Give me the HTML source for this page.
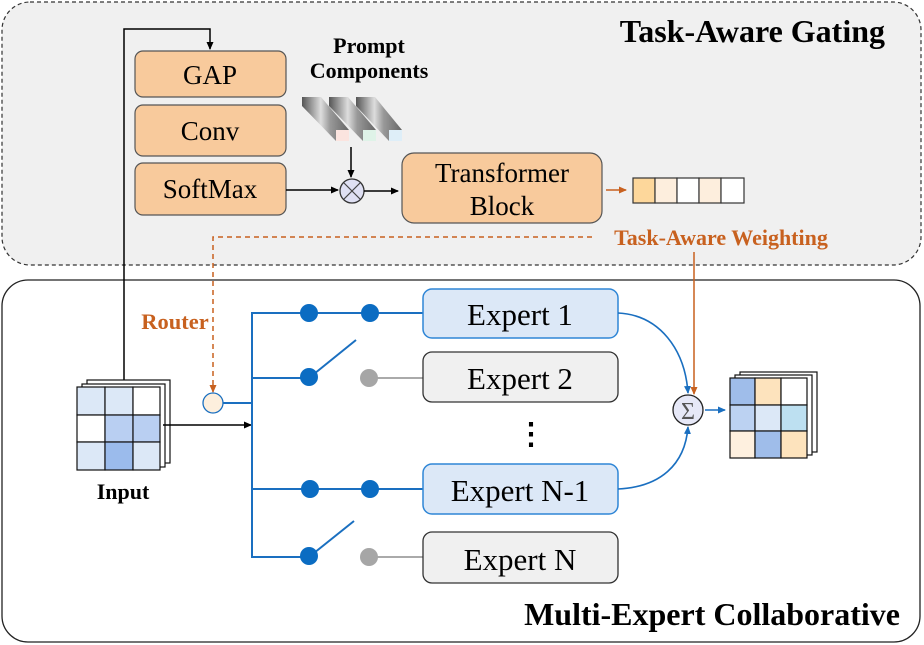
<!DOCTYPE html>
<html><head><meta charset="utf-8"><style>
html,body{margin:0;padding:0;background:#fff;}
svg{display:block;font-family:"Liberation Serif",serif;}
text{font-family:"Liberation Serif",serif;}
</style></head><body>
<svg width="924" height="645" viewBox="0 0 924 645" xmlns="http://www.w3.org/2000/svg" font-family="Liberation Serif, serif">
<defs>
<marker id="ak" markerWidth="8" markerHeight="8" refX="7" refY="4" orient="auto" markerUnits="userSpaceOnUse"><path d="M0,0.5 L8,4 L0,7.5 z" fill="#000"/></marker>
<marker id="ab" markerWidth="8" markerHeight="8" refX="7" refY="4" orient="auto" markerUnits="userSpaceOnUse"><path d="M0,0.5 L8,4 L0,7.5 z" fill="#1a6fc0"/></marker>
<marker id="ao" markerWidth="8" markerHeight="8" refX="7" refY="4" orient="auto" markerUnits="userSpaceOnUse"><path d="M0,0.5 L8,4 L0,7.5 z" fill="#c8611f"/></marker>
<linearGradient id="gs" x1="0" y1="0" x2="1" y2="0">
<stop offset="0" stop-color="#555"/><stop offset="0.4" stop-color="#ddd"/><stop offset="0.6" stop-color="#999"/><stop offset="1" stop-color="#666"/></linearGradient>
</defs>
<rect x="2" y="2" width="919" height="263" rx="28" fill="#f0f0f0" stroke="#333" stroke-width="1.2" stroke-dasharray="4,3"/>
<text x="885" y="42" text-anchor="end" font-size="32" font-weight="bold">Task-Aware Gating</text>
<rect x="2" y="280" width="918" height="362" rx="26" fill="#fff" stroke="#222" stroke-width="1.3"/>
<text x="900" y="625" text-anchor="end" font-size="32" font-weight="bold">Multi-Expert Collaborative</text>

<polyline points="124,383 124,29 210,29 210,49" fill="none" stroke="#000" stroke-width="1.5" marker-end="url(#ak)"/>
<rect x="135" y="51" width="151" height="46" rx="8" fill="#f8ca9c" stroke="#555" stroke-width="1.2"/>
<text x="210" y="84" text-anchor="middle" font-size="27">GAP</text>
<rect x="135" y="105" width="151" height="51" rx="8" fill="#f8ca9c" stroke="#555" stroke-width="1.2"/>
<text x="210" y="140" text-anchor="middle" font-size="27">Conv</text>
<rect x="135" y="163" width="151" height="52" rx="8" fill="#f8ca9c" stroke="#555" stroke-width="1.2"/>
<text x="210" y="198" text-anchor="middle" font-size="27">SoftMax</text>

<text x="369" y="53" text-anchor="middle" font-size="22" font-weight="bold">Prompt</text>
<text x="369" y="78" text-anchor="middle" font-size="22" font-weight="bold">Components</text>
<g>
<polygon points="302,97 321,97 349,130 349,141 336,141 302,106" fill="url(#gs)"/>
<rect x="336" y="130" width="13" height="11" fill="#fbe4df"/>
<polygon points="329,97 348,97 376,130 376,141 363,141 329,106" fill="url(#gs)"/>
<rect x="363" y="130" width="13" height="11" fill="#dff3e8"/>
<polygon points="356,97 375,97 402,130 402,141 389,141 356,106" fill="url(#gs)"/>
<rect x="389" y="130" width="13" height="11" fill="#deeef8"/>
</g>
<line x1="351" y1="147" x2="351" y2="177" stroke="#000" stroke-width="1.5" marker-end="url(#ak)"/>
<line x1="286" y1="190" x2="338" y2="190" stroke="#000" stroke-width="1.5" marker-end="url(#ak)"/>
<circle cx="352" cy="191" r="12" fill="#dfe0f3" stroke="#333" stroke-width="1.3"/>
<line x1="344" y1="183" x2="360" y2="199" stroke="#444" stroke-width="1.2"/>
<line x1="360" y1="183" x2="344" y2="199" stroke="#444" stroke-width="1.2"/>
<line x1="364" y1="191" x2="398" y2="191" stroke="#000" stroke-width="1.5" marker-end="url(#ak)"/>
<rect x="402" y="153" width="200" height="70" rx="12" fill="#f8ca9c" stroke="#555" stroke-width="1.2"/>
<text x="502" y="182" text-anchor="middle" font-size="27">Transformer</text>
<text x="502" y="215" text-anchor="middle" font-size="27">Block</text>
<line x1="606" y1="190" x2="626" y2="190" stroke="#c8611f" stroke-width="1.5" marker-end="url(#ao)"/>
<g stroke="#333" stroke-width="1.2">
<rect x="633" y="178" width="22" height="25" fill="#fdd79b"/>
<rect x="655" y="178" width="22" height="25" fill="#fdeedd"/>
<rect x="677" y="178" width="22" height="25" fill="#fff"/>
<rect x="699" y="178" width="22" height="25" fill="#fdeedd"/>
<rect x="721" y="178" width="23" height="25" fill="#fff"/>
</g>
<text x="721" y="245" text-anchor="middle" font-size="22" font-weight="bold" fill="#c8611f">Task-Aware Weighting</text>
<polyline points="592,237 213,237 213,390" fill="none" stroke="#c8611f" stroke-width="1.5" stroke-dasharray="5,4"/>
<line x1="213" y1="385" x2="213" y2="392" stroke="#c8611f" stroke-width="1.5" marker-end="url(#ao)"/>
<text x="175" y="329" text-anchor="middle" font-size="22.5" font-weight="bold" fill="#c8611f">Router</text>
<line x1="694" y1="252" x2="694" y2="394" stroke="#c8611f" stroke-width="1.5" marker-end="url(#ao)"/>

<g stroke="#111" stroke-width="1.2">
<rect x="87" y="380" width="83" height="83" fill="#fff"/>
<rect x="82" y="384" width="83" height="83" fill="#fff"/>
<rect x="77" y="387" width="28" height="28" fill="#dce8f7"/>
<rect x="105" y="387" width="28" height="28" fill="#dce8f7"/>
<rect x="133" y="387" width="27" height="28" fill="#fff"/>
<rect x="77" y="415" width="28" height="27" fill="#fff"/>
<rect x="105" y="415" width="28" height="27" fill="#b9cff2"/>
<rect x="133" y="415" width="27" height="27" fill="#b9cff2"/>
<rect x="77" y="442" width="28" height="28" fill="#dce8f7"/>
<rect x="105" y="442" width="28" height="28" fill="#9bbbec"/>
<rect x="133" y="442" width="27" height="28" fill="#dce8f7"/>
</g>
<text x="123" y="499" text-anchor="middle" font-size="22" font-weight="bold">Input</text>
<line x1="163" y1="425" x2="251" y2="425" stroke="#000" stroke-width="1.5" marker-end="url(#ak)"/>

<circle cx="213" cy="403" r="10" fill="#fdefdd" stroke="#1a6fc0" stroke-width="1.3"/>
<g stroke="#1a6fc0" stroke-width="2" fill="none">
<line x1="223" y1="403" x2="252" y2="403"/>
<line x1="252" y1="312" x2="252" y2="558"/>
<line x1="252" y1="313" x2="423" y2="313"/>
<line x1="252" y1="378" x2="309" y2="378"/>
<line x1="309" y1="378" x2="356" y2="340"/>
<line x1="252" y1="489" x2="423" y2="489"/>
<line x1="252" y1="557" x2="309" y2="557"/>
<line x1="309" y1="557" x2="354" y2="521"/>
</g>
<line x1="369" y1="378" x2="423" y2="378" stroke="#aaa" stroke-width="2"/>
<line x1="369" y1="557" x2="423" y2="557" stroke="#aaa" stroke-width="2"/>
<g fill="#0b6cc2">
<circle cx="309" cy="313" r="9"/><circle cx="370" cy="313" r="9"/>
<circle cx="309" cy="377" r="9"/>
<circle cx="310" cy="489" r="9"/><circle cx="370" cy="489" r="9"/>
<circle cx="309" cy="556" r="9"/>
</g>
<circle cx="369" cy="378" r="9" fill="#a6a6a6"/>
<circle cx="369" cy="557" r="9" fill="#a6a6a6"/>

<rect x="423" y="289" width="195" height="49" rx="9" fill="#dce8f7" stroke="#2f86d6" stroke-width="1.5"/>
<text x="520" y="325" text-anchor="middle" font-size="31">Expert 1</text>
<rect x="423" y="352" width="195" height="50" rx="9" fill="#f0f0f0" stroke="#333" stroke-width="1.3"/>
<text x="520" y="389" text-anchor="middle" font-size="31">Expert 2</text>
<text x="531" y="444" text-anchor="middle" font-size="30" font-weight="bold">⋮</text>
<rect x="423" y="464" width="195" height="50" rx="9" fill="#dce8f7" stroke="#2f86d6" stroke-width="1.5"/>
<text x="520" y="501" text-anchor="middle" font-size="31">Expert N-1</text>
<rect x="423" y="532" width="195" height="51" rx="9" fill="#f0f0f0" stroke="#333" stroke-width="1.3"/>
<text x="520" y="570" text-anchor="middle" font-size="31">Expert N</text>

<path d="M618,313 C660,315 685,350 688,393" fill="none" stroke="#1a6fc0" stroke-width="1.6" marker-end="url(#ab)"/>
<path d="M618,489 C660,487 685,465 688,427" fill="none" stroke="#1a6fc0" stroke-width="1.6" marker-end="url(#ab)"/>
<circle cx="688" cy="410" r="15" fill="#e6e8f7" stroke="#222" stroke-width="1.3"/>
<text x="688" y="419" text-anchor="middle" font-size="24" fill="#555">Σ</text>
<line x1="705" y1="410" x2="725" y2="410" stroke="#1a6fc0" stroke-width="1.6" marker-end="url(#ab)"/>

<g stroke="#111" stroke-width="1.2">
<rect x="740" y="372" width="77" height="80" fill="#fff"/>
<rect x="735" y="375" width="77" height="80" fill="#fff"/>
<rect x="730" y="378" width="25" height="27" fill="#9fbdea"/>
<rect x="755" y="378" width="26" height="27" fill="#fde3bd"/>
<rect x="781" y="378" width="26" height="27" fill="#fff"/>
<rect x="730" y="405" width="25" height="26" fill="#bcd2f2"/>
<rect x="755" y="405" width="26" height="26" fill="#dce8f7"/>
<rect x="781" y="405" width="26" height="26" fill="#bde0f1"/>
<rect x="730" y="431" width="25" height="27" fill="#fef0df"/>
<rect x="755" y="431" width="26" height="27" fill="#9fbdea"/>
<rect x="781" y="431" width="26" height="27" fill="#fde3bd"/>
</g>
</svg>
</body></html>
